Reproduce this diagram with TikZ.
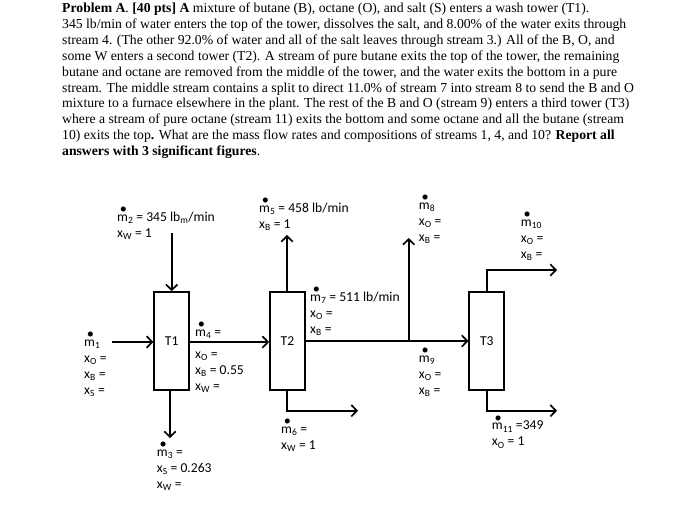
\documentclass[tikz,border=0pt]{standalone}
\usepackage{fontspec}
\setmainfont{Liberation Serif}
\setsansfont{Carlito}
\usetikzlibrary{arrows.meta}

\newcommand{\mflow}[1]{\strut\smash{\rlap{\hspace{2.6pt}\raisebox{7.8pt}{\scalebox{1.05}{\textbullet}}}}m\textsubscript{#1}}
\newcommand{\xfrac}[1]{x\textsubscript{#1}}

\tikzset{
  tower/.style = {draw, line width = 1.7pt, minimum width = 35pt, minimum height = 98pt, inner sep = 0pt, font = \fontsize{13.6}{16}\sffamily},
  lbl/.style = {anchor = north west, inner sep = 0pt, align = left, font = \fontsize{13.6}{16}\sffamily},
  stream/.style = {line width = 1.6pt, -{Straight Barb[length = 5.5pt, width = 11.5pt, line width = 1.7pt]}},
  pipe/.style = {line width = 1.6pt}
}

\begin{document}
\begin{tikzpicture}[x = 1pt, y = -1pt]
    \useasboundingbox (0, 0) rectangle (700, 512);

    \node[anchor = north west, inner sep = 0pt, align = left, font = \fontsize{13.7}{15.9}\selectfont] (problem) at (62, 2.7) {%
      \textbf{Problem A}. \textbf{[40 pts] A} mixture of butane (B), octane (O), and salt (S) enters a wash tower (T1).\\
      345 lb/min of water enters the top of the tower, dissolves the salt, and 8.00\% of the water exits through\\
      stream 4. (The other 92.0\% of water and all of the salt leaves through stream 3.) All of the B, O, and\\
      some W enters a second tower (T2). A stream of pure butane exits the top of the tower, the remaining\\
      butane and octane are removed from the middle of the tower, and the water exits the bottom in a pure\\
      stream. The middle stream contains a split to direct 11.0\% of stream 7 into stream 8 to send the B and O\\
      mixture to a furnace elsewhere in the plant. The rest of the B and O (stream 9) enters a third tower (T3)\\
      where a stream of pure octane (stream 11) exits the bottom and some octane and all the butane (stream\\
      10) exits the top\textbf{.} What are the mass flow rates and compositions of streams 1, 4, and 10? \textbf{Report all}\\
      \textbf{answers with 3 significant figures}.};

    % towers
    \node[tower] (T1) at (171.7, 341) {T1};
    \node[tower] (T2) at (287.5, 341) {T2};
    \node[tower] (T3) at (486.8, 341) {T3};

    % free ends of the streams
    \coordinate (in1) at (111.7, 342);
    \coordinate (in2) at (171.7, 233);
    \coordinate (out3) at (170, 438);
    \coordinate (out5) at (287, 235);
    \coordinate (out6) at (358, 410.7);
    \coordinate (split) at (408.7, 341);
    \coordinate (out8) at (408.7, 238);
    \coordinate (out10) at (557, 270);
    \coordinate (out11) at (557, 410.7);

    \draw[stream] (in1) -- (T1.west |- in1);
    \draw[stream] (in2) -- (T1.north);
    \draw[stream] (T1.south -| out3) -- (out3);
    \draw[stream] (T1.east |- in1) -- (T2.west |- in1);
    \draw[stream] (T2.north -| out5) -- (out5);
    \draw[stream] (T2.south -| out5) |- (out6);
    \draw[pipe] (T2.east |- split) -- (split);
    \draw[stream] (split) -- (T3.west |- split);
    \draw[stream] (split) -- (out8);
    \draw[stream] (T3.north) |- (out10);
    \draw[stream] (T3.south) |- (out11);

    % stream labels
    \node[lbl] (m1) at (84, 335) {\mflow{1}\\\xfrac{O} =\\\xfrac{B} =\\\xfrac{S} =};
    \node[lbl] (m2) at (117, 210) {\mflow{2} = 345 lb\textsubscript{m}/min\\\xfrac{W} = 1};
    \node[lbl] (m3) at (156.7, 445) {\mflow{3} =\\\xfrac{S} = 0.263\\\xfrac{W} =};
    \node[lbl] (m4) at (195, 325) {\mflow{4} =};
    \node[lbl] (x4) at (195, 347) {\strut\xfrac{O} =\\\xfrac{B} = 0.55\\\xfrac{W} =};
    \node[lbl] (m5) at (259, 201) {\mflow{5} = 458 lb/min\\\xfrac{B} = 1};
    \node[lbl] (m6) at (281, 422) {\mflow{6} =\\\xfrac{W} = 1};
    \node[lbl] (m7) at (310, 290) {\mflow{7} = 511 lb/min\\\xfrac{O} =\\\xfrac{B} =};
    \node[lbl] (m8) at (418.7, 198) {\mflow{8}\\\xfrac{O} =\\\xfrac{B} =};
    \node[lbl] (m9) at (418.7, 351) {\mflow{9}\\\xfrac{O} =\\\xfrac{B} =};
    \node[lbl] (m10) at (520.7, 215) {\mflow{10}\\\xfrac{O} =\\\xfrac{B} =};
    \node[lbl] (m11) at (491.7, 418.5) {\mflow{11} =349\\\xfrac{O} = 1};
\end{tikzpicture}
\end{document}
